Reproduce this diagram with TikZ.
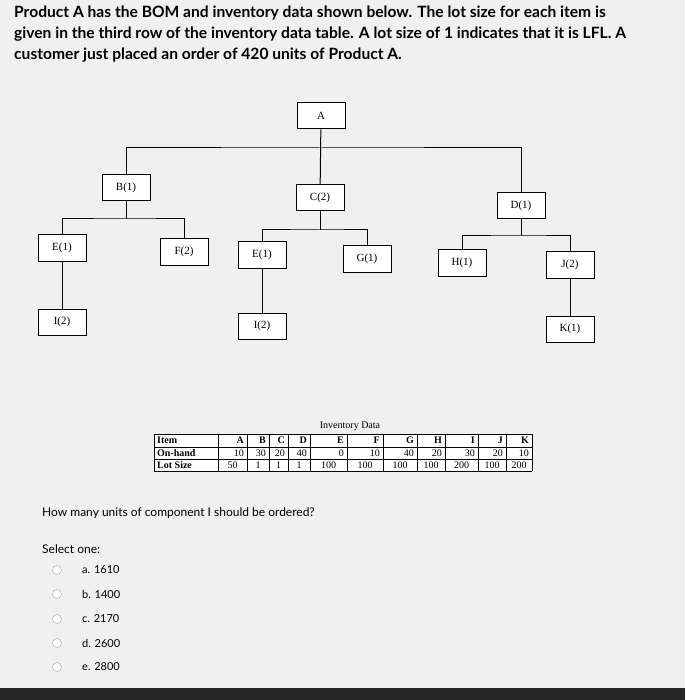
\documentclass[tikz,border=0pt]{standalone}
\usepackage{fontspec}
\setmainfont{Liberation Serif}
\newfontfamily\uifont{Lato}
\begin{document}
\begin{tikzpicture}[x=1pt,y=-1pt,
  bx/.style={draw,line width=1pt,fill=white,minimum width=48pt,minimum height=26pt,font=\fontsize{11}{13}\selectfont},
  ln/.style={line width=1pt},
  ui/.style={font=\uifont\fontsize{12}{14}\selectfont,anchor=west,inner sep=0},
  radio/.style={draw=gray!70,fill=white,circle,minimum size=9pt,inner sep=0}]
\fill[gray!12] (0,0) rectangle (685,700);
\fill[black!85] (0,688) rectangle (685,700);
\useasboundingbox (0,0) rectangle (685,700);
\node[ui,font=\uifont\bfseries\fontsize{15.6}{21}\selectfont,anchor=north west,align=left] (q) at (14,6)
 {Product A has the BOM and inventory data shown below. The lot size for each item is\\
  given in the third row of the inventory data table. A lot size of 1 indicates that it is LFL. A\\
  customer just placed an order of 420 units of Product A.};
\node[bx] (A) at (321,116) {A};
\node[bx] (B) at (126,188) {B(1)};
\node[bx] (C) at (320,198) {C(2)};
\node[bx] (D) at (521,206) {D(1)};
\node[bx] (E1) at (62,248) {E(1)};
\node[bx] (F) at (184,252) {F(2)};
\node[bx] (E2) at (262,255) {E(1)};
\node[bx] (G) at (367,259) {G(1)};
\node[bx] (H) at (462,263) {H(1)};
\node[bx] (J) at (570,265) {J(2)};
\node[bx] (I1) at (62,322) {I(2)};
\node[bx] (I2) at (262,326) {I(2)};
\node[bx] (K) at (570,329) {K(1)};
\coordinate (bA) at (321,148);
\draw[ln] (A) -- (C);
\draw[ln] (B) |- (bA) -| (D);
\coordinate (bB) at (126,219);
\draw[ln] (B) -- (bB); \draw[ln] (E1) |- (bB) -| (F);
\coordinate (bC) at (320,230);
\draw[ln] (C) -- (bC); \draw[ln] (E2) |- (bC) -| (G);
\coordinate (bD) at (521,236);
\draw[ln] (D) -- (bD); \draw[ln] (H) |- (bD) -| (J);
\draw[ln] (E1) -- (I1); \draw[ln] (E2) -- (I2); \draw[ln] (J) -- (K);
% table
\node[font=\fontsize{10}{11}\selectfont,inner sep=0] (tt) at (350,426) {Inventory Data};
\fill[white] (154,434) rectangle (532,471);
\foreach \y in {434,447,459,471} \draw[line width=0.8pt] (154,\y) -- (532,\y);
\foreach \x in {154,218,247,269,288,310,347,383,417,445,478,506,532} \draw[line width=0.8pt] (\x,434) -- (\x,471);
\begin{scope}[every node/.style={font=\fontsize{10}{11}\selectfont,inner sep=0}]
\node[anchor=west,font=\bfseries\fontsize{10}{11}\selectfont] at (157,440.5) {Item};
\node[anchor=west,font=\bfseries\fontsize{10}{11}\selectfont] at (157,453) {On-hand};
\node[anchor=west,font=\bfseries\fontsize{10}{11}\selectfont] at (157,465) {Lot Size};
\foreach \xa/\xb/\n/\o/\l in {218/247/A/10/50,247/269/B/30/1,269/288/C/20/1,288/310/D/40/1,310/347/E/0/100,347/383/F/10/100,383/417/G/40/100,417/445/H/20/100,445/478/I/30/200,478/506/J/20/100,506/532/K/10/200}{
  \node[anchor=east,font=\bfseries\fontsize{10}{11}\selectfont] at (\xb-3,440.5) {\n};
  \node[anchor=east] at (\xb-3,453) {\o};
  \node at ({(\xa+\xb)/2},465) {\l};
}
\end{scope}
\node[ui] (qq) at (42,513) {How many units of component I should be ordered?};
\node[ui] (sel) at (42,549) {Select one:};
\foreach \y/\t [count=\i] in {570/a. 1610,594/b. 1400,619/c. 2170,643/d. 2600,667/e. 2800}{
  \node[radio] (r\i) at (57,\y) {};
  \node[ui,font=\uifont\fontsize{11}{13}\selectfont] (o\i) at (82,\y) {\t};
}
\end{tikzpicture}
\end{document}
